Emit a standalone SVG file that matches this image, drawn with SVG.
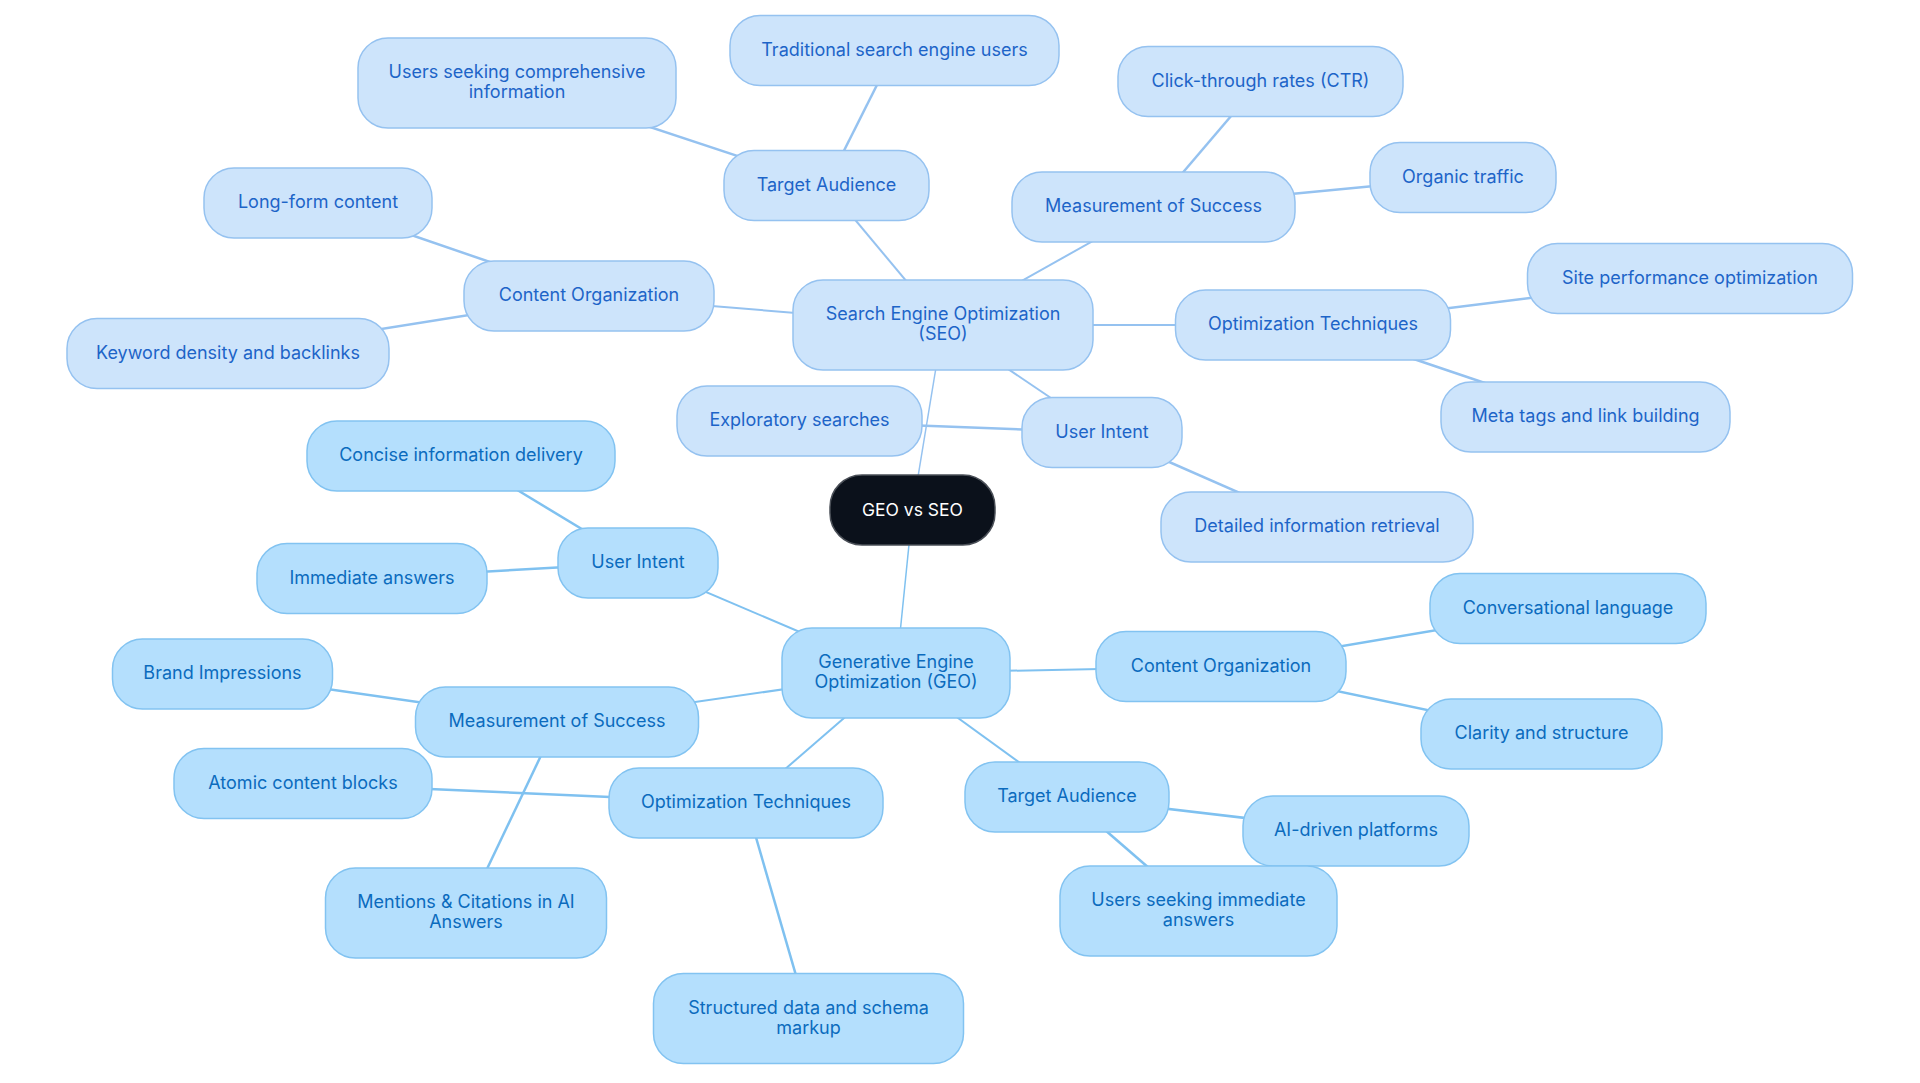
<svg xmlns="http://www.w3.org/2000/svg" width="1920" height="1083" viewBox="0 0 1920 1083">
<style>
text{font-family:Inter,"Noto Sans","Liberation Sans",sans-serif;font-size:18px;text-anchor:middle}
.seo rect{fill:#CDE4FB;stroke:#95C2F0;stroke-width:1.5}
.seo text{fill:#1D64C8}
.geo rect{fill:#B4DFFD;stroke:#82C3F1;stroke-width:1.5}
.geo text{fill:#0B6BBD}
.root rect{fill:#0B111B;stroke:#4A4F57;stroke-width:1.5}
.root text{fill:#FFFFFF;font-size:17.5px}
.es{stroke:#95C2F0;fill:none}
.eg{stroke:#7FC1F0;fill:none}
.d0{stroke-width:1.5}
.d1{stroke-width:2}
.d2{stroke-width:2.5}
</style>
<rect width="1920" height="1083" fill="#FFFFFF"/>
<g id="connectors">
<line class="es d0" x1="912.5" y1="510" x2="943" y2="325"/>
<line class="eg d0" x1="912.5" y1="510" x2="896" y2="673"/>
<line class="es d1" x1="943" y1="325" x2="826.5" y2="185.5"/>
<line class="es d2" x1="826.5" y1="185.5" x2="517" y2="83"/>
<line class="es d2" x1="826.5" y1="185.5" x2="894.5" y2="50"/>
<line class="es d1" x1="943" y1="325" x2="589" y2="296"/>
<line class="es d2" x1="589" y1="296" x2="318" y2="203"/>
<line class="es d2" x1="589" y1="296" x2="228" y2="353.5"/>
<line class="es d1" x1="943" y1="325" x2="1153.5" y2="207"/>
<line class="es d2" x1="1153.5" y1="207" x2="1260.5" y2="81.5"/>
<line class="es d2" x1="1153.5" y1="207" x2="1463" y2="177.5"/>
<line class="es d1" x1="943" y1="325" x2="1313" y2="325"/>
<line class="es d2" x1="1313" y1="325" x2="1690" y2="278"/>
<line class="es d2" x1="1313" y1="325" x2="1585.5" y2="417"/>
<line class="es d1" x1="943" y1="325" x2="1102" y2="432.5"/>
<line class="es d2" x1="1102" y1="432.5" x2="799.5" y2="421"/>
<line class="es d2" x1="1102" y1="432.5" x2="1317" y2="527"/>
<line class="eg d1" x1="896" y1="673" x2="638" y2="563"/>
<line class="eg d2" x1="638" y1="563" x2="461" y2="456"/>
<line class="eg d2" x1="638" y1="563" x2="372" y2="578"/>
<line class="eg d1" x1="896" y1="673" x2="557" y2="722"/>
<line class="eg d2" x1="557" y1="722" x2="222.5" y2="674"/>
<line class="eg d2" x1="557" y1="722" x2="466" y2="913"/>
<line class="eg d1" x1="896" y1="673" x2="746" y2="803"/>
<line class="eg d2" x1="746" y1="803" x2="303" y2="783.5"/>
<line class="eg d2" x1="746" y1="803" x2="808.5" y2="1018.5"/>
<line class="eg d1" x1="896" y1="673" x2="1221" y2="666.6"/>
<line class="eg d2" x1="1221" y1="666.6" x2="1568" y2="608"/>
<line class="eg d2" x1="1221" y1="666.6" x2="1541.5" y2="734"/>
<line class="eg d1" x1="896" y1="673" x2="1067" y2="797"/>
<line class="eg d2" x1="1067" y1="797" x2="1356" y2="831"/>
<line class="eg d2" x1="1067" y1="797" x2="1198.5" y2="911"/>
</g>
<g id="root" class="root"><rect x="830" y="475" width="165" height="70" rx="32"/><text x="912.5" y="515.5">GEO vs SEO</text></g>
<g id="seo" class="seo"><rect x="793" y="280" width="300" height="90" rx="30"/><text x="943" y="320">Search Engine Optimization</text><text x="943" y="340">(SEO)</text></g>
<g id="seo-ta" class="seo"><rect x="724" y="150.5" width="205" height="70" rx="30"/><text x="826.5" y="190.5">Target Audience</text></g>
<g id="seo-ta-1" class="seo"><rect x="358" y="38" width="318" height="90" rx="30"/><text x="517" y="78">Users seeking comprehensive</text><text x="517" y="98">information</text></g>
<g id="seo-ta-2" class="seo"><rect x="730" y="15.5" width="329" height="70" rx="30"/><text x="894.5" y="55.5">Traditional search engine users</text></g>
<g id="seo-co" class="seo"><rect x="464" y="261" width="250" height="70" rx="30"/><text x="589" y="301">Content Organization</text></g>
<g id="seo-co-1" class="seo"><rect x="204" y="168" width="228" height="70" rx="30"/><text x="318" y="208">Long-form content</text></g>
<g id="seo-co-2" class="seo"><rect x="67" y="318.5" width="322" height="70" rx="30"/><text x="228" y="358.5">Keyword density and backlinks</text></g>
<g id="seo-ms" class="seo"><rect x="1012" y="172" width="283" height="70" rx="30"/><text x="1153.5" y="212">Measurement of Success</text></g>
<g id="seo-ms-1" class="seo"><rect x="1118" y="46.5" width="285" height="70" rx="30"/><text x="1260.5" y="86.5">Click-through rates (CTR)</text></g>
<g id="seo-ms-2" class="seo"><rect x="1370" y="142.5" width="186" height="70" rx="30"/><text x="1463" y="182.5">Organic traffic</text></g>
<g id="seo-ot" class="seo"><rect x="1175.5" y="290" width="275" height="70" rx="30"/><text x="1313" y="330">Optimization Techniques</text></g>
<g id="seo-ot-1" class="seo"><rect x="1527.5" y="243.5" width="325" height="70" rx="30"/><text x="1690" y="283.5">Site performance optimization</text></g>
<g id="seo-ot-2" class="seo"><rect x="1441" y="382" width="289" height="70" rx="30"/><text x="1585.5" y="422">Meta tags and link building</text></g>
<g id="seo-ui" class="seo"><rect x="1022" y="397.5" width="160" height="70" rx="30"/><text x="1102" y="437.5">User Intent</text></g>
<g id="seo-ui-1" class="seo"><rect x="677" y="386" width="245" height="70" rx="30"/><text x="799.5" y="426">Exploratory searches</text></g>
<g id="seo-ui-2" class="seo"><rect x="1161" y="492" width="312" height="70" rx="30"/><text x="1317" y="532">Detailed information retrieval</text></g>
<g id="geo" class="geo"><rect x="782" y="628" width="228" height="90" rx="30"/><text x="896" y="668">Generative Engine</text><text x="896" y="688">Optimization (GEO)</text></g>
<g id="geo-ui" class="geo"><rect x="558" y="528" width="160" height="70" rx="30"/><text x="638" y="568">User Intent</text></g>
<g id="geo-ui-1" class="geo"><rect x="307" y="421" width="308" height="70" rx="30"/><text x="461" y="461">Concise information delivery</text></g>
<g id="geo-ui-2" class="geo"><rect x="257" y="543.5" width="230" height="70" rx="30"/><text x="372" y="583.5">Immediate answers</text></g>
<g id="geo-ms" class="geo"><rect x="415.5" y="687" width="283" height="70" rx="30"/><text x="557" y="727">Measurement of Success</text></g>
<g id="geo-ms-1" class="geo"><rect x="112.5" y="639" width="220" height="70" rx="30"/><text x="222.5" y="679">Brand Impressions</text></g>
<g id="geo-ms-2" class="geo"><rect x="325.5" y="868" width="281" height="90" rx="30"/><text x="466" y="908">Mentions &amp; Citations in AI</text><text x="466" y="928">Answers</text></g>
<g id="geo-ot" class="geo"><rect x="609" y="768" width="274" height="70" rx="30"/><text x="746" y="808">Optimization Techniques</text></g>
<g id="geo-ot-1" class="geo"><rect x="174" y="748.5" width="258" height="70" rx="30"/><text x="303" y="788.5">Atomic content blocks</text></g>
<g id="geo-ot-2" class="geo"><rect x="653.5" y="973.5" width="310" height="90" rx="30"/><text x="808.5" y="1013.5">Structured data and schema</text><text x="808.5" y="1033.5">markup</text></g>
<g id="geo-co" class="geo"><rect x="1096" y="631.5" width="250" height="70" rx="30"/><text x="1221" y="671.5">Content Organization</text></g>
<g id="geo-co-1" class="geo"><rect x="1430" y="573.5" width="276" height="70" rx="30"/><text x="1568" y="613.5">Conversational language</text></g>
<g id="geo-co-2" class="geo"><rect x="1421" y="699" width="241" height="70" rx="30"/><text x="1541.5" y="739">Clarity and structure</text></g>
<g id="geo-ta" class="geo"><rect x="965" y="762" width="204" height="70" rx="30"/><text x="1067" y="802">Target Audience</text></g>
<g id="geo-ta-1" class="geo"><rect x="1243" y="796" width="226" height="70" rx="30"/><text x="1356" y="836">AI-driven platforms</text></g>
<g id="geo-ta-2" class="geo"><rect x="1060" y="866" width="277" height="90" rx="30"/><text x="1198.5" y="906">Users seeking immediate</text><text x="1198.5" y="926">answers</text></g>
</svg>
